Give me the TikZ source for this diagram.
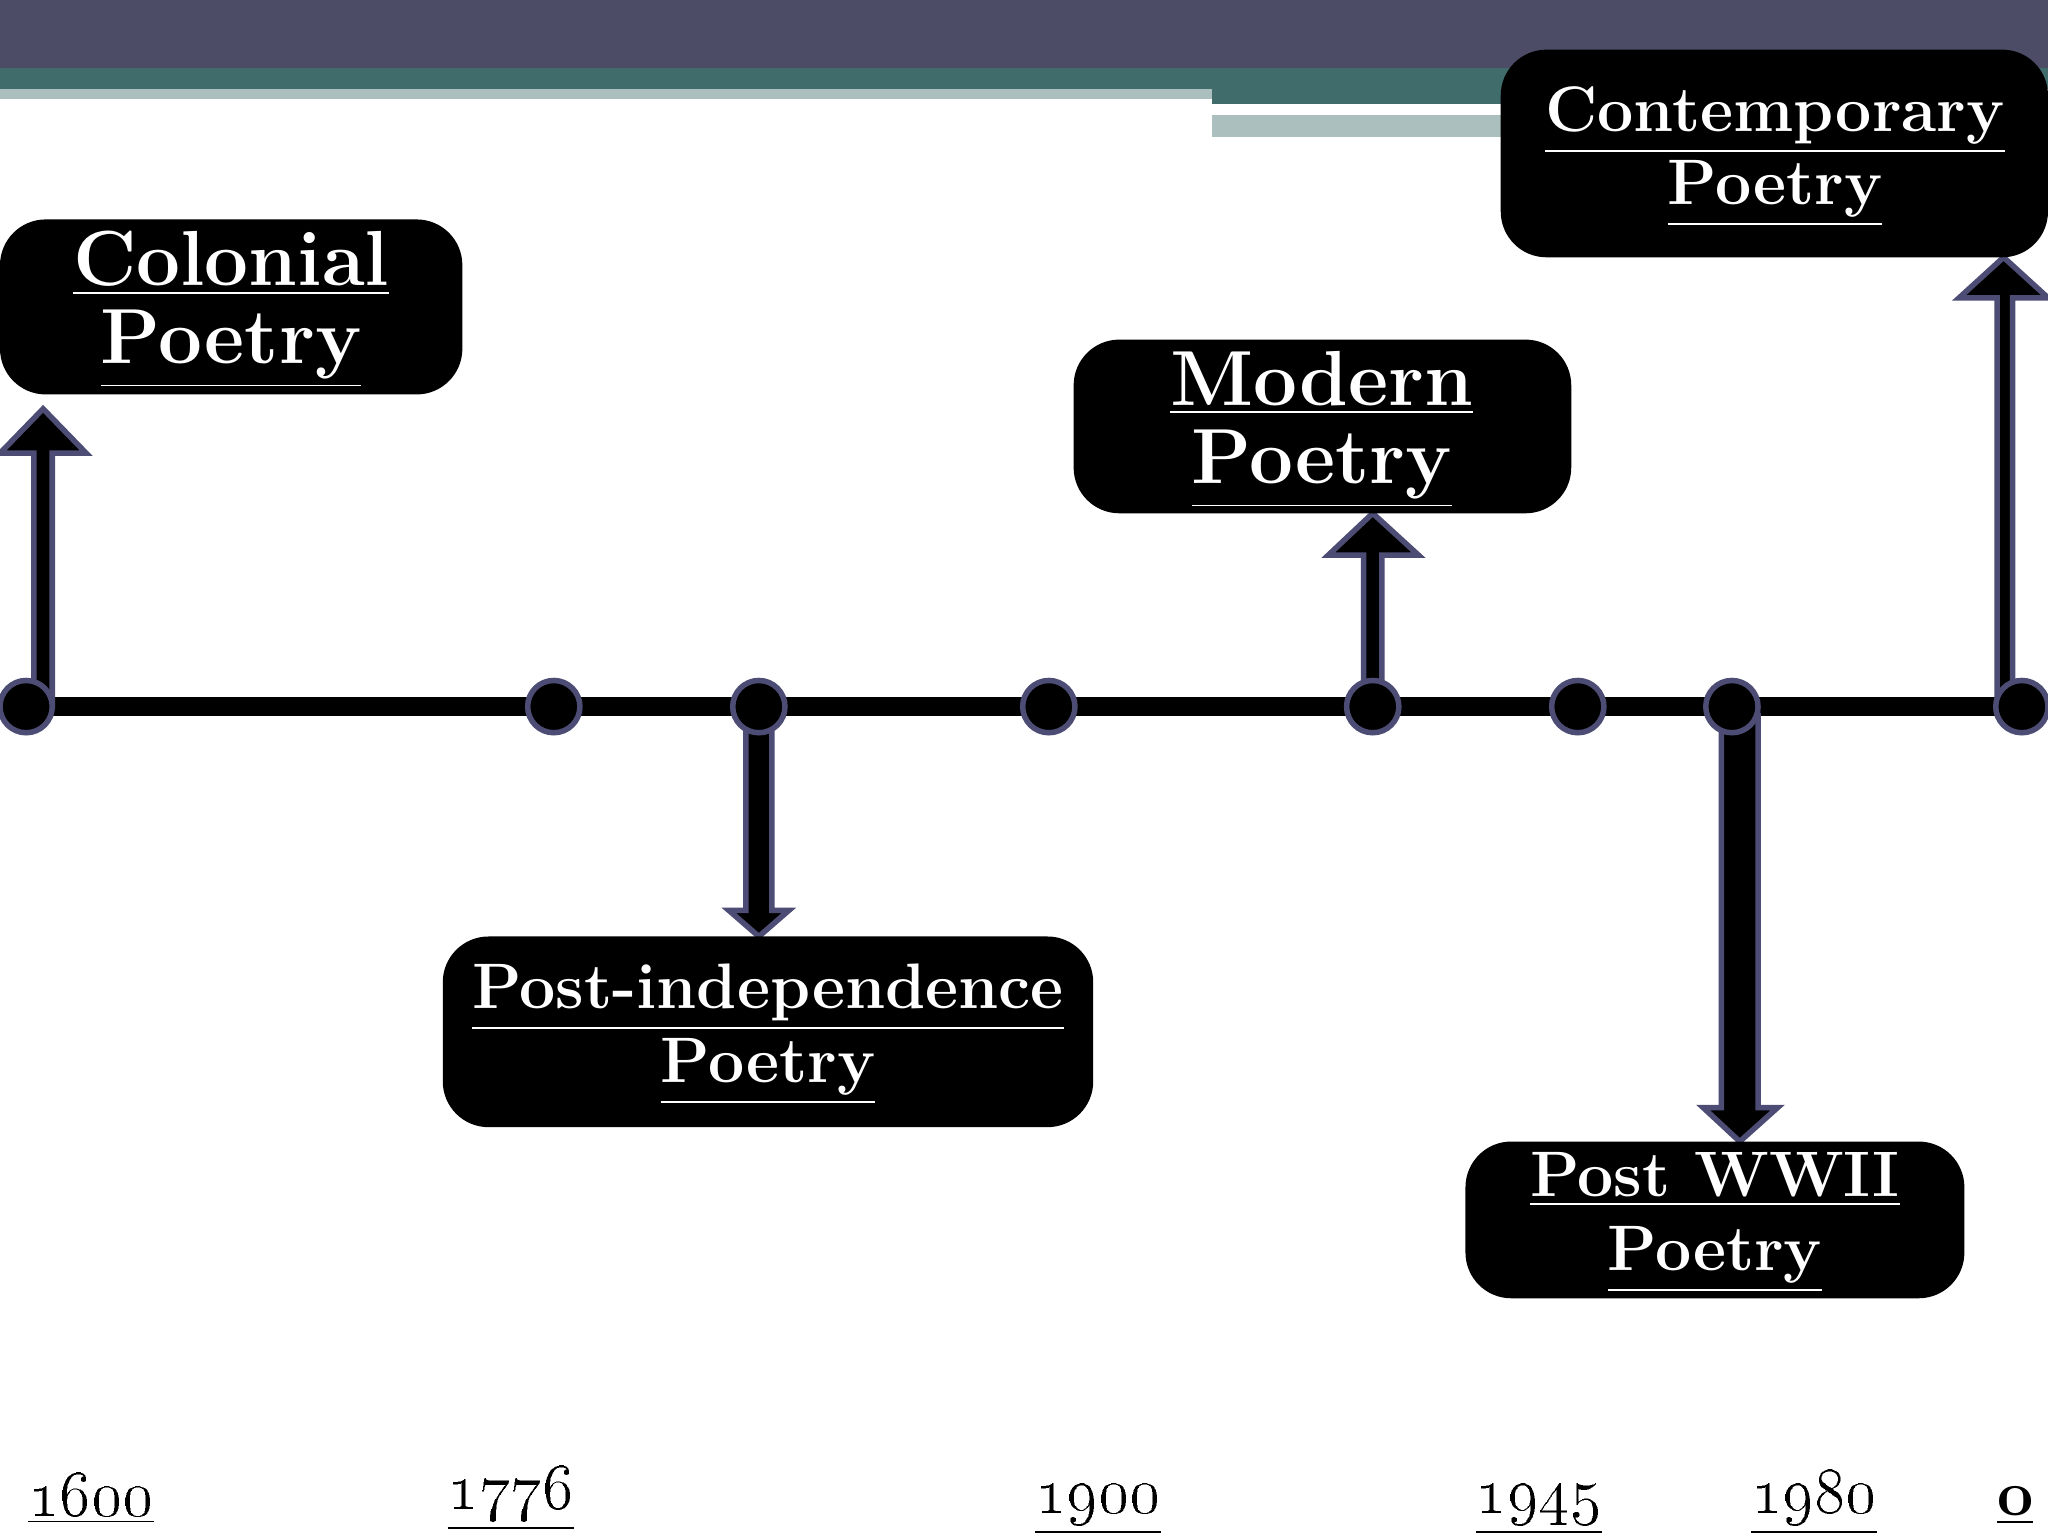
\documentclass[tikz,border=0pt]{standalone}
\begin{document}
\begin{tikzpicture}[x=0.01cm,y=-0.01cm,
  box/.style={fill=black,rounded corners=0.35cm,draw=none},
  lbl/.style={text=white,font=\bfseries,align=center},
  barrow/.style={fill=black,draw=black!60!blue!40!gray,line width=1.2pt,line join=miter},
  dot/.style={circle,fill=black,draw=black!60!blue!40!gray,line width=1.2pt,minimum size=0.4cm,inner sep=0pt},
  yr/.style={font=\bfseries\fontsize{14}{16}\selectfont,anchor=base}]
\useasboundingbox (0,0) rectangle (1568,1176);
\fill[white] (0,0) rectangle (1568,1176);
% header bands
\fill[black!30!teal!50!gray] (0,52) rectangle (1568,68);
\fill[black!30!teal!50!gray] (928,68) rectangle (1150,80);
\fill[teal!30!gray!50] (0,68) rectangle (928,76);
\fill[teal!30!gray!50] (928,88) rectangle (1150,105);
\fill[black!75!blue!40!gray] (0,0) rectangle (1568,52);
% timeline
\draw[line width=0.14cm] (20,541) -- (1548,541);
% arrows
\draw[barrow] (26,541) -- (26,347) -- (0,347) -- (33,313) -- (66,347) -- (40,347) -- (40,541) -- cycle;
\draw[barrow] (1044,541) -- (1044,425) -- (1017,425) -- (1051,393) -- (1086,425) -- (1058,425) -- (1058,541) -- cycle;
\draw[barrow] (1529,541) -- (1529,228) -- (1500,228) -- (1534,197) -- (1568,228) -- (1541,228) -- (1541,541) -- cycle;
\draw[barrow] (571,550) -- (571,697) -- (558,697) -- (581,717) -- (604,697) -- (591,697) -- (591,550) -- cycle;
\draw[barrow] (1318,548) -- (1318,848) -- (1304,848) -- (1332,874) -- (1361,848) -- (1346,848) -- (1346,548) -- cycle;
% dots
\foreach \n/\x in {d1/20,d2/424,d3/581,d4/803,d5/1051,d6/1208,d7/1326,d8/1548}
  \node[dot] (\n) at (\x,541) {};
% boxes
\fill[box] (0,168) rectangle (354,302);
\node[lbl,font=\bfseries\fontsize{17}{19}\selectfont] (colonial) at (177,237) {\underline{Colonial}\\[-2pt]\underline{Poetry}};
\fill[box] (822,260) rectangle (1203,393);
\node[lbl,font=\bfseries\fontsize{17}{19}\selectfont] (modern) at (1012,329) {\underline{Modern}\\[-2pt]\underline{Poetry}};
\fill[box] (1149,38) rectangle (1568,197);
\node[lbl,font=\bfseries\fontsize{14}{16}\selectfont] (contemp) at (1359,120) {\underline{Contemporary}\\\underline{Poetry}};
\fill[box] (339,717) rectangle (837,863);
\node[lbl,font=\bfseries\fontsize{14}{16}\selectfont] (postind) at (588,792) {\underline{Post-independence}\\\underline{Poetry}};
\fill[box] (1122,874) rectangle (1504,994);
\node[lbl,font=\bfseries\fontsize{14}{16}\selectfont] (postww) at (1313,936) {\underline{Post WWII}\\\underline{Poetry}};
% years
\node[yr] (y1) at (70,1160) {\underline{\oldstylenums{1600}}};
\node[yr] (y2) at (391,1155) {\underline{\oldstylenums{1776}}};
\node[yr] (y3) at (841,1158) {\underline{\oldstylenums{1900}}};
\node[yr] (y4) at (1178,1158) {\underline{\oldstylenums{1945}}};
\node[yr] (y5) at (1389,1158) {\underline{\oldstylenums{1980}}};
\node[yr] (y6) at (1543,1160) {\underline{o}};
\end{tikzpicture}
\end{document}
